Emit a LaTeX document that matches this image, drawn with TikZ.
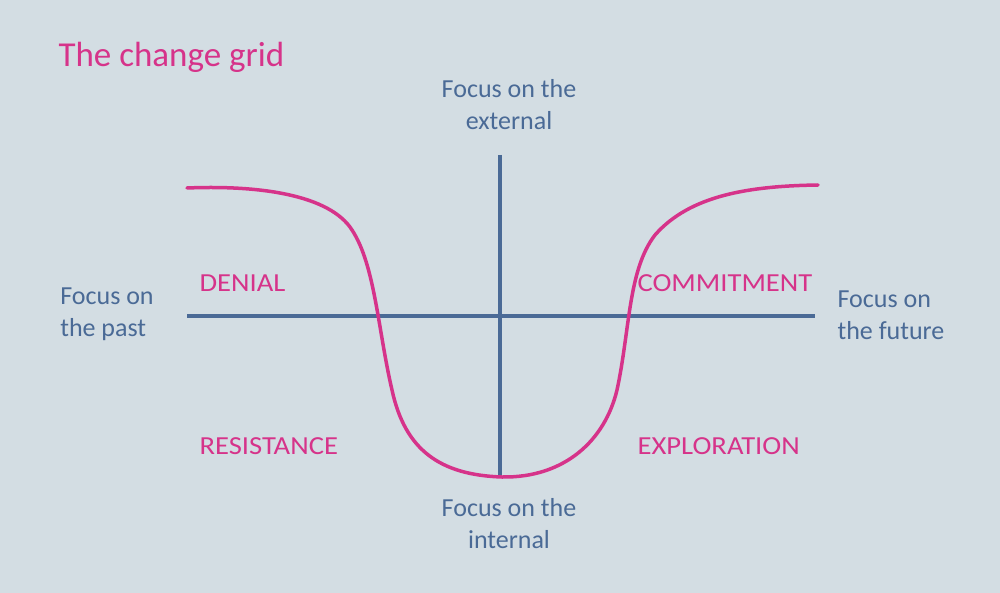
\documentclass[tikz,border=0pt]{standalone}
\usepackage{fontspec}
\setmainfont{Carlito}
\newfontfamily\widefont[FakeStretch=1.1]{Carlito}
\definecolor{bg}{HTML}{D3DDE3}
\definecolor{ax}{HTML}{4A6A96}
\definecolor{pk}{HTML}{D6338A}
\begin{document}
\begin{tikzpicture}[x=1pt,y=-1pt,
 axis/.style={draw=ax,line width=3.2pt},
 lbl/.style={text=ax,font=\fontsize{26}{32}\selectfont,align=center},
 stage/.style={text=pk,font=\widefont\fontsize{26}{30}\selectfont}]
\fill[bg] (0,0) rectangle (1000,593);
\useasboundingbox (0,0) rectangle (1000,593);
\node[text=pk,font=\fontsize{35}{40}\selectfont,anchor=west] (title) at (55,57) {The change grid};
\coordinate (l) at (187,316); \coordinate (r) at (815,316);
\coordinate (t) at (500,155); \coordinate (b) at (500,477);
\draw[axis] (l) -- (r);
\draw[axis] (t) -- (b);
\draw[pk,line width=3.5pt,line cap=round] (187,188) .. controls (260,185) and (330,195) .. (352,230)
 .. controls (375,265) and (378,330) .. (392,390)
 .. controls (405,450) and (440,475) .. (502,477)
 .. controls (565,478) and (605,440) .. (617,390)
 .. controls (630,330) and (628,270) .. (655,235)
 .. controls (690,195) and (750,186) .. (818,185);
\node[lbl] (ext) at (509,105) {Focus on the\\external};
\node[lbl] (int) at (509,524) {Focus on the\\internal};
\node[lbl,align=left] (past) at (107,314) {Focus on\\the past};
\node[lbl,align=left] (fut) at (891,315) {Focus on\\the future};
\node[stage,anchor=west] (den) at (196,283) {DENIAL};
\node[stage,anchor=west] (com) at (634,283) {COMMITMENT};
\node[stage,anchor=west] (res) at (196,446) {RESISTANCE};
\node[stage,anchor=west] (exp) at (634,446) {EXPLORATION};
\end{tikzpicture}
\end{document}
